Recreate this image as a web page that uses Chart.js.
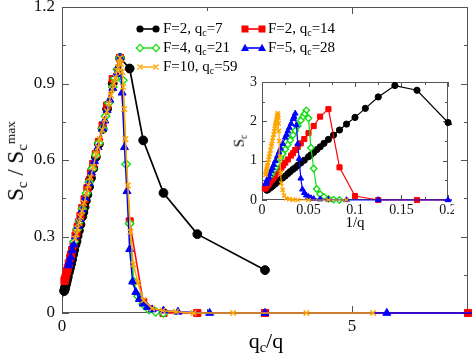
<!DOCTYPE html>
<html><head><meta charset="utf-8">
<script src="https://cdn.jsdelivr.net/npm/chart.js@4.4.1/dist/chart.umd.min.js"></script>
<style>
html,body{margin:0;padding:0;background:#fff;}
#wrap{position:relative;width:474px;height:356px;overflow:hidden;font-family:"Liberation Serif","Times New Roman",serif;color:#000;}
canvas{position:absolute;display:block;}
#main{left:0;top:0;width:474px;height:356px;}
#inset{left:232px;top:76px;width:222px;height:156px;}
.t{position:absolute;white-space:nowrap;line-height:1;}
.t sub{font-size:65%;vertical-align:-0.28em;}
.t sup{font-size:58%;vertical-align:0.6em;}
.lg{position:absolute;}
</style></head>
<body>
<div id="wrap">
<canvas id="main" width="474" height="356"></canvas>
<canvas id="inset" width="222" height="156"></canvas>

<div class="t" style="left:17px;top:161px;font-size:23px;transform:translate(-50%,-50%) rotate(-90deg);">S<sub>c</sub> / S<sub>c</sub><sup>max</sup></div>
<div class="t" style="left:266px;top:342px;font-size:22px;transform:translate(-50%,-50%);">q<sub>c</sub>/q</div>
<div class="t" style="left:355px;top:222px;font-size:15px;transform:translate(-50%,-50%);">1/q</div>
<div class="t" style="left:240px;top:141px;font-size:15px;transform:translate(-50%,-50%) rotate(-90deg);">S<sub>c</sub></div>

<svg class="lg" style="left:135px;top:22px" width="28" height="14"><line x1="5" y1="7" x2="21" y2="7" stroke="#000" stroke-width="1.6"/><circle cx="5" cy="7" r="3.6" fill="#000"/><circle cx="21" cy="7" r="3.6" fill="#000"/></svg>
<div class="t" style="left:163px;top:21px;font-size:15px;">F=2, q<sub>c</sub>=7</div>
<svg class="lg" style="left:135px;top:41px" width="28" height="14"><line x1="5" y1="7" x2="21" y2="7" stroke="#11dd11" stroke-width="1.4"/><path d="M5,3.4 L8.6,7 L5,10.6 L1.4,7 Z" fill="#fff" stroke="#11dd11" stroke-width="1.3"/><path d="M21,3.4 L24.6,7 L21,10.6 L17.4,7 Z" fill="#fff" stroke="#11dd11" stroke-width="1.3"/></svg>
<div class="t" style="left:163px;top:40px;font-size:15px;">F=4, q<sub>c</sub>=21</div>
<svg class="lg" style="left:135px;top:60px" width="28" height="14"><line x1="5" y1="7" x2="21" y2="7" stroke="#ffa500" stroke-width="1.4"/><path d="M2.5,4.5 L7.5,9.5 M7.5,4.5 L2.5,9.5 M18.5,4.5 L23.5,9.5 M23.5,4.5 L18.5,9.5" stroke="#ffa500" stroke-width="1.4"/></svg>
<div class="t" style="left:163px;top:59px;font-size:15px;">F=10, q<sub>c</sub>=59</div>
<svg class="lg" style="left:240px;top:22px" width="28" height="14"><line x1="5" y1="7" x2="22" y2="7" stroke="#ff0000" stroke-width="1.6"/><rect x="1.5" y="3.5" width="7" height="7" fill="#ff0000"/><rect x="18.5" y="3.5" width="7" height="7" fill="#ff0000"/></svg>
<div class="t" style="left:268px;top:21px;font-size:15px;">F=2, q<sub>c</sub>=14</div>
<svg class="lg" style="left:240px;top:41px" width="28" height="14"><line x1="5" y1="7" x2="22" y2="7" stroke="#0000ff" stroke-width="1.6"/><path d="M5,2.8 L9,10 L1,10 Z" fill="#0000ff"/><path d="M22,2.8 L26,10 L18,10 Z" fill="#0000ff"/></svg>
<div class="t" style="left:268px;top:40px;font-size:15px;">F=5, q<sub>c</sub>=28</div>
</div>

<script>
// ---- tick values ----
const mainXMajor = [0, 5];
const mainXMinor = [2.5];
const mainYMajor = [0, 0.3, 0.6, 0.9, 1.2];
const mainYMinor = [0.15, 0.45, 0.75, 1.05];
const insetXMajor = [0, 0.05, 0.1, 0.15, 0.2];
const insetXMinor = [0.025, 0.075, 0.125, 0.175];
const insetYMajor = [0, 1, 2, 3];
const insetYMinor = [0.5, 1.5, 2.5];

// ---- data: q values and S_c values (inset); main plot uses q_c/q and S_c/S_c^max ----
const blackQc = 7;
const blackQ = [2,3,4,5,6,7,8,9,10,11,12,13,14,15,16,17,18,19,20,22,24,26,28,30,33,36,40,45,50,55,60,70,80,90,100,115,130,150,170,190];
const blackS = [0.49,0.90,1.37,1.97,2.79,2.91,2.62,2.33,2.10,1.93,1.78,1.65,1.54,1.44,1.35,1.28,1.21,1.15,1.10,1.01,0.94,0.88,0.82,0.78,0.72,0.67,0.61,0.56,0.52,0.49,0.46,0.41,0.38,0.35,0.33,0.31,0.29,0.27,0.26,0.25];

const redQc = 14;
const redQ = [2,4,6,8,10,12,14,16,18,20,22,24,26,28,30,32,36,40,44,48,52,56,60,70,80,90,100,120,140,160,200,240,280,330];
const redS = [0,0,0,0,0.10,0.83,2.31,2.12,1.88,1.70,1.55,1.44,1.35,1.27,1.19,1.13,1.03,0.95,0.88,0.82,0.78,0.73,0.70,0.62,0.57,0.53,0.50,0.45,0.41,0.38,0.35,0.32,0.30,0.29];

const greenQc = 21;
const greenQ = [12,13,14,15,16,17,18,19,20,21,22,23,24,26,28,30,33,36,40,45,50,60,70,80,100];
const greenS = [0,0.01,0.03,0.08,0.15,0.28,0.80,1.33,2.08,2.28,2.18,2.10,2.02,1.88,1.76,1.65,1.52,1.41,1.29,1.17,1.07,0.93,0.82,0.75,0.64];

const blueQc = 28;
const blueQ = [3,5,8,11,14,16,18,19,20,21,22,23,24,25,26,27,28,29,30,32,34,36,38,40,45,50,55,60,70,80,90,100,120,140,160,190,220,250];
const blueS = [0,0,0,0,0.01,0.02,0.03,0.05,0.08,0.12,0.18,0.27,0.55,1.05,1.43,1.90,2.20,2.12,2.06,1.94,1.84,1.75,1.66,1.59,1.43,1.31,1.21,1.12,0.99,0.89,0.81,0.75,0.66,0.59,0.54,0.48,0.44,0.41];

const orangeQc = 59;
const orangeQ = [11,14,20,26,30,34,38,42,45,48,50,52,54,55,56,57,58,59,60,61,62,64,66,68,70,73,76,80,85,90,95,100,110,120,130,140,155,170,185,200,220,240,260];
const orangeS = [0,0,0,0,0.01,0.02,0.04,0.11,0.26,0.42,0.70,1.10,1.50,1.76,1.95,2.08,2.15,2.20,2.16,2.12,2.09,2.03,1.98,1.93,1.88,1.81,1.74,1.67,1.58,1.50,1.43,1.37,1.26,1.17,1.10,1.03,0.95,0.88,0.83,0.78,0.73,0.68,0.64];

// ---- styles (separate from data) ----
const series = [
  {q: orangeQ, s: orangeS, qc: orangeQc, color:'#ffa500', bg:'#ffa500', shape:'crossRot', r:4, ri:3, lw:1.5, order:0},
  {q: blueQ,   s: blueS,   qc: blueQc,   color:'#0000ff', bg:'#0000ff', shape:'triangle', r:4.6, ri:3.3, lw:1.5, order:1},
  {q: greenQ,  s: greenS,  qc: greenQc,  color:'#11dd11', bg:'#ffffff', shape:'rectRot', r:4.2, ri:3.2, lw:1.5, order:2},
  {q: redQ,    s: redS,    qc: redQc,    color:'#ff0000', bg:'#ff0000', shape:'rect', r:5, ri:3.6, lw:1.5, order:3},
  {q: blackQ,  s: blackS,  qc: blackQc,  color:'#000000', bg:'#000000', shape:'circle', r:4.4, ri:3.1, lw:1.7, order:4}
];

function buildDatasets(inset) {
  return series.map(se => {
    const smax = Math.max(...se.s);
    const pts = se.q.map((q, i) => inset ? {x: 1 / q, y: se.s[i]} : {x: se.qc / q, y: se.s[i] / smax});
    return {
      data: pts, showLine: true, order: se.order,
      borderColor: se.color, backgroundColor: se.bg,
      borderWidth: inset ? 1.2 : se.lw,
      pointStyle: se.shape,
      pointRadius: inset ? se.ri : se.r,
      pointBorderColor: se.color,
      pointBackgroundColor: se.bg,
      pointBorderWidth: se.shape === 'rectRot' || se.shape === 'crossRot' ? 1.4 : 1,
      pointHoverRadius: inset ? se.ri : se.r,
      tension: 0,
      clip: {left: 8, top: 8, right: 4, bottom: 8}
    };
  });
}

function framePlugin(id, xMaj, xMin, yMaj, yMin, lenMaj, lenMin) {
  return {
    id: id,
    beforeDatasetsDraw(chart) {
      const {ctx, chartArea: a, scales: {x, y}} = chart;
      ctx.save();
      ctx.strokeStyle = '#555';
      ctx.lineWidth = 1;
      ctx.strokeRect(a.left + 0.5, a.top + 0.5, a.right - a.left - 1, a.bottom - a.top - 1);
      ctx.beginPath();
      const xt = (vals, len) => vals.forEach(v => {
        const p = Math.round(x.getPixelForValue(v)) + 0.5;
        ctx.moveTo(p, a.bottom); ctx.lineTo(p, a.bottom - len);
        ctx.moveTo(p, a.top); ctx.lineTo(p, a.top + len);
      });
      const yt = (vals, len) => vals.forEach(v => {
        const p = Math.round(y.getPixelForValue(v)) + 0.5;
        ctx.moveTo(a.left, p); ctx.lineTo(a.left + len, p);
        ctx.moveTo(a.right, p); ctx.lineTo(a.right - len, p);
      });
      xt(xMaj, lenMaj); xt(xMin, lenMin); yt(yMaj, lenMaj); yt(yMin, lenMin);
      ctx.stroke();
      ctx.restore();
    }
  };
}

function axis(min, max, major, fontSize, pad, isX, fitSize) {
  return {
    type: 'linear', min: min, max: max,
    grid: {display: false, drawTicks: false},
    border: {display: false},
    afterBuildTicks: s => { s.ticks = major.map(v => ({value: v})); },
    afterFit: s => {
      if (isX) { s.height = fitSize; s.paddingLeft = 0; s.paddingRight = 0; }
      else { s.width = fitSize; s.paddingTop = 0; s.paddingBottom = 0; }
    },
    ticks: {
      padding: pad, color: '#111', autoSkip: false, maxRotation: 0,
      font: {family: '"Liberation Serif", "Times New Roman", serif', size: fontSize},
      callback: v => String(v)
    }
  };
}

new Chart(document.getElementById('main'), {
  type: 'scatter',
  data: {datasets: buildDatasets(false)},
  options: {
    responsive: false, animation: false, devicePixelRatio: 1,
    layout: {padding: {left: 0, top: 7, right: 4, bottom: 0}},
    plugins: {legend: {display: false}, tooltip: {enabled: false}},
    events: [],
    scales: {
      x: axis(0, 7, mainXMajor, 17, 3, true, 43),
      y: axis(0, 1.2, mainYMajor, 17, 7, false, 62)
    }
  },
  plugins: [framePlugin('mainFrame', mainXMajor, mainXMinor, mainYMajor, mainYMinor, 7, 4)]
});

new Chart(document.getElementById('inset'), {
  type: 'scatter',
  data: {datasets: buildDatasets(true)},
  options: {
    responsive: false, animation: false, devicePixelRatio: 1,
    layout: {padding: {left: 0, top: 6, right: 6, bottom: 0}},
    plugins: {legend: {display: false}, tooltip: {enabled: false}},
    events: [],
    scales: {
      x: axis(0, 0.2, insetXMajor, 14, 2, true, 32),
      y: axis(0, 3, insetYMajor, 14, 5, false, 30)
    }
  },
  plugins: [framePlugin('insetFrame', insetXMajor, insetXMinor, insetYMajor, insetYMinor, 5, 3)]
});
</script>
</body></html>
